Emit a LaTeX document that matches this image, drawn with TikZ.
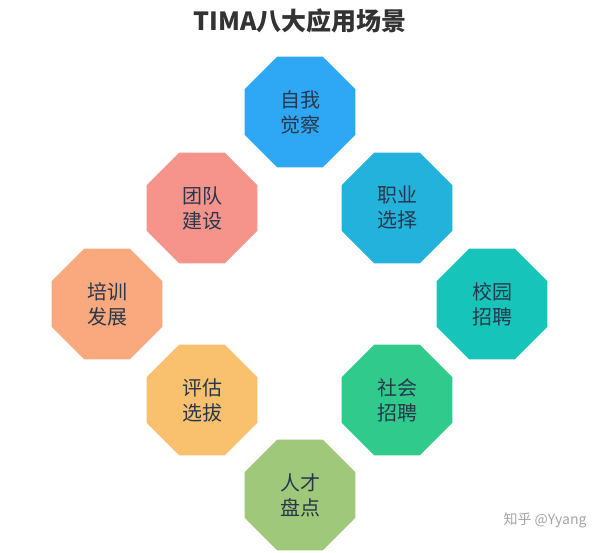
\documentclass[tikz,border=0pt]{standalone}
\usepackage{fontspec}
\newfontfamily\cjk{Noto Sans CJK SC}
\usetikzlibrary{shapes.geometric}
\definecolor{ca}{RGB}{46,168,245}
\definecolor{cb}{RGB}{34,178,220}
\definecolor{cc}{RGB}{22,196,186}
\definecolor{cd}{RGB}{48,203,140}
\definecolor{ce}{RGB}{160,200,122}
\definecolor{cf}{RGB}{249,192,110}
\definecolor{cg}{RGB}{250,168,125}
\definecolor{ch}{RGB}{246,148,140}
\definecolor{tx}{RGB}{40,55,75}
\tikzset{oct/.style={regular polygon,regular polygon sides=8,minimum size=121pt,inner sep=0pt,fill=#1,draw=white,line width=1pt,font=\cjk\fontsize{20}{25}\selectfont,text=tx,align=center}}
\begin{document}
\begin{tikzpicture}[x=1pt,y=-1pt]
\useasboundingbox (0,0) rectangle (600,552);
\fill[white] (0,0) rectangle (600,552);
\node[font=\cjk\bfseries\fontsize{25}{28}\selectfont,text=black!80] (t) at (300,21) {TIMA八大应用场景};
\node[oct=ca] (a) at (300,112) {自我\\觉察};
\node[oct=cb] (b) at (397,208) {职业\\选择};
\node[oct=cc] (c) at (492,304) {校园\\招聘};
\node[oct=cd] (d) at (397,400) {社会\\招聘};
\node[oct=ce] (e) at (300,495) {人才\\盘点};
\node[oct=cf] (f) at (202,400) {评估\\选拔};
\node[oct=cg] (g) at (107,304) {培训\\发展};
\node[oct=ch] (h) at (202,208) {团队\\建设};
\node[font=\cjk\fontsize{14}{16}\selectfont,text=gray!70] (w) at (545,520) {知乎 @Yyang};
\end{tikzpicture}
\end{document}
